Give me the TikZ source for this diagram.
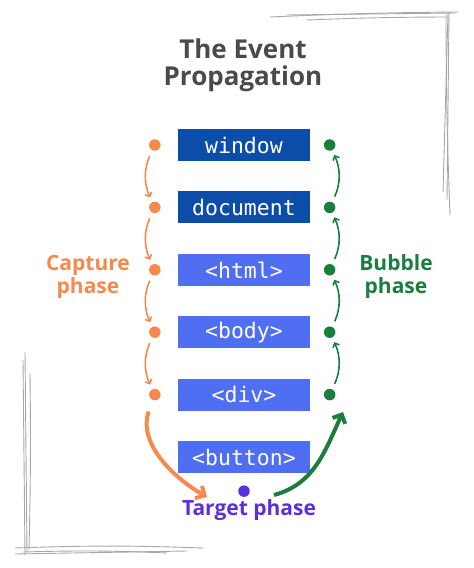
\documentclass[tikz,border=0pt]{standalone}
\usepackage{fontspec}
\setmainfont{Open Sans}
\setmonofont{DejaVu Sans Mono}
\usepackage{xcolor}
\usetikzlibrary{arrows.meta,positioning}
\definecolor{titlegrey}{HTML}{4A4A4A}
\definecolor{darkbox}{HTML}{0D4DAA}
\definecolor{lightbox}{HTML}{4F6EF2}
\definecolor{capcol}{HTML}{F68A4E}
\definecolor{bubcol}{HTML}{1A7F3C}
\definecolor{tgtcol}{HTML}{5B2FDB}
\definecolor{sketchgrey}{HTML}{A8A8A8}

\begin{document}
\begin{tikzpicture}[x=1pt, y=1pt,
    node distance=30pt,
    elbox/.style={rectangle, fill=#1, text=white, minimum width=132pt, minimum height=32pt,
        inner sep=0pt, font=\ttfamily\fontsize{21.5}{21.5}\selectfont},
    dot/.style={circle, fill=#1, inner sep=0pt, minimum size=11.5pt},
    phase/.style={font=\bfseries\fontsize{21}{23}\selectfont, align=center, text=#1},
    hop/.style={-{Straight Barb[length=3.5pt,width=7pt]}, line width=1.6pt, draw=#1,
        shorten <=6pt, shorten >=5pt},
    jump/.style={-{Straight Barb[length=7pt,width=14pt]}, line width=4pt, draw=#1},
    sketch/.style={draw=sketchgrey, line width=0.9pt, line cap=round}
]
    \useasboundingbox (0,0) rectangle (474,568);

    % Sketchy frame corners
    \draw[sketch] (270,551) to[bend left=1] (458,556);
    \draw[sketch] (287,553) -- (456,555);
    \draw[sketch] (307,548) to[bend left=1] (447,551);
    \draw[sketch] (448,555) -- (443,376);
    \draw[sketch] (446,553) to[bend right=1] (450,353);
    \draw[sketch] (449,555) -- (447,368);
    \draw[sketch] (25,216) -- (27,16);
    \draw[sketch] (23,208) -- (25,13);
    \draw[sketch] (30,195) to[bend left=1] (29,18);
    \draw[sketch] (15,20) to[bend left=2] (203,20);
    \draw[sketch] (15,14) -- (187,17);
    \draw[sketch] (23,16) to[bend left=2] (167,15);

    % Title
    \node[font=\bfseries\fontsize{26}{27}\selectfont, text=titlegrey, align=center] (title)
        at (243,503) {The Event\\Propagation};

    % DOM chain
    \node[elbox=darkbox] (window) at (244,423) {window};
    \node[elbox=darkbox, below=of window] (document) {document};
    \node[elbox=lightbox, below=of document] (html) {<html>};
    \node[elbox=lightbox, below=of html] (body) {<body>};
    \node[elbox=lightbox, below=of body] (div) {<div>};
    \node[elbox=lightbox, below=of div] (button) {<button>};

    % Capture and bubble dots
    \foreach \n/\s in {window/win, document/doc, html/html, body/body, div/div} {
        \node[dot=capcol, left=17pt of \n] (c\s) {};
        \node[dot=bubcol, right=13.5pt of \n] (b\s) {};
    }
    \node[dot=tgtcol, below=12pt of button] (tdot) {};

    % Phase labels
    \node[phase=capcol] (capture) at (88,291) {Capture\\phase};
    \node[phase=bubcol] (bubble) at (396,291) {Bubble\\phase};
    \node[phase=tgtcol] (target) at (249,58) {Target phase};

    % Small hops between dots
    \foreach \a/\b in {cwin/cdoc, cdoc/chtml, chtml/cbody, cbody/cdiv}
        \draw[hop=capcol] (\a) to[out=-115, in=115] (\b);
    \foreach \a/\b in {bdoc/bwin, bhtml/bdoc, bbody/bhtml, bdiv/bbody}
        \draw[hop=bubcol] (\a) to[out=65, in=-65] (\b);

    % Big arrows into and out of the target
    \coordinate (capend) at (207,71);
    \coordinate (bubstart) at (274,73);
    \coordinate (bubend) at (343,156);
    \draw[jump=capcol, shorten <=12pt] (cdiv) to[out=-110, in=150] (capend);
    \draw[jump=bubcol] (bubstart) to[out=15, in=-115] (bubend);
\end{tikzpicture}
\end{document}
